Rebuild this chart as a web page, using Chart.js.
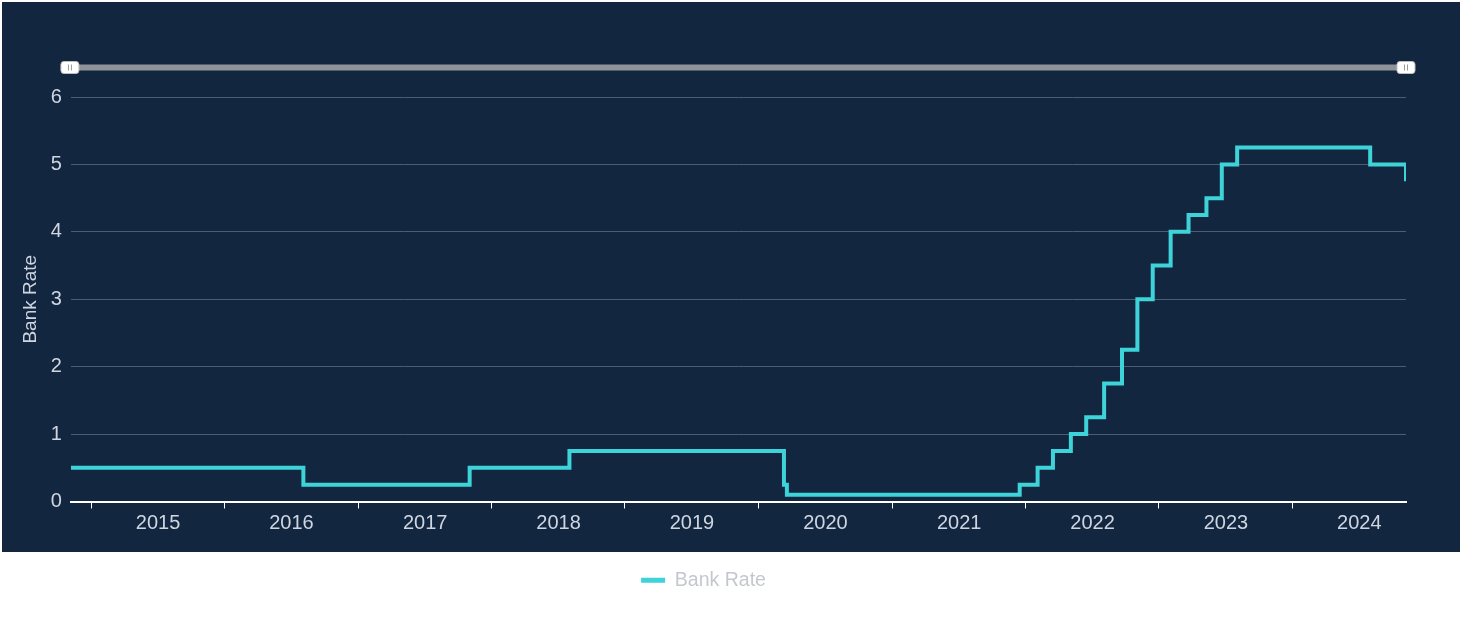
<!DOCTYPE html>
<html>
<head>
<meta charset="utf-8">
<script src="https://cdn.jsdelivr.net/npm/chart.js@4.4.1/dist/chart.umd.min.js"></script>
<style>
  html, body { margin: 0; padding: 0; background: #ffffff; }
  #wrap { position: relative; width: 1462px; height: 625px; }
</style>
</head>
<body>
<div id="wrap"><canvas id="c" width="1462" height="625"></canvas></div>
<script>
// ---- Data (Bank of England Bank Rate) ----
const seriesName = 'Bank Rate';
const changeDates = [
  '2014-11-07', '2016-08-04', '2017-11-02', '2018-08-02', '2020-03-11', '2020-03-19',
  '2021-12-16', '2022-02-03', '2022-03-17', '2022-05-05', '2022-06-16', '2022-08-04',
  '2022-09-22', '2022-11-03', '2022-12-15', '2023-02-02', '2023-03-23', '2023-05-11',
  '2023-06-22', '2023-08-03', '2024-08-01', '2024-11-07'
];
const rates = [
  0.5, 0.25, 0.5, 0.75, 0.25, 0.1,
  0.25, 0.5, 0.75, 1.0, 1.25, 1.75,
  2.25, 3.0, 3.5, 4.0, 4.25, 4.5,
  5.0, 5.25, 5.0, 4.75
];
const tickYears = [2015, 2016, 2017, 2018, 2019, 2020, 2021, 2022, 2023, 2024];
const yTicks = [0, 1, 2, 3, 4, 5, 6];
const rangeStart = '2014-11-07';
const rangeEnd = '2024-11-07';

const toTs = s => Date.parse(s + 'T00:00:00Z');
const points = changeDates.map((d, i) => ({ x: toTs(d), y: rates[i] }));

const BG = '#132640';
const CYAN = '#3dd3d8';
const LABEL = '#cfd6e0';

const bgPlugin = {
  id: 'bgPanel',
  beforeDraw(chart) {
    const ctx = chart.ctx;
    ctx.save();
    ctx.fillStyle = '#ffffff';
    ctx.fillRect(0, 0, chart.width, chart.height);
    ctx.fillStyle = BG;
    ctx.fillRect(2, 2, 1458, 550);
    ctx.restore();
  },
  afterDraw(chart) {
    // navigator / range slider decoration
    const ctx = chart.ctx;
    const x0 = chart.scales.x.left, x1 = chart.scales.x.right;
    const yc = 67.5;
    ctx.save();
    ctx.fillStyle = '#8e9399';
    ctx.fillRect(x0, yc - 3, x1 - x0, 6);
    [x0 - 1, x1].forEach(hx => {
      const w = 18, h = 12, r = 3;
      ctx.beginPath();
      ctx.roundRect(hx - w / 2, yc - h / 2, w, h, r);
      ctx.fillStyle = '#ffffff';
      ctx.fill();
      ctx.strokeStyle = '#bfbfbf';
      ctx.lineWidth = 1;
      ctx.stroke();
      ctx.beginPath();
      ctx.moveTo(hx - 1.5, yc - 3); ctx.lineTo(hx - 1.5, yc + 3);
      ctx.moveTo(hx + 1.5, yc - 3); ctx.lineTo(hx + 1.5, yc + 3);
      ctx.strokeStyle = '#999999';
      ctx.stroke();
    });
    ctx.restore();
  }
};

new Chart(document.getElementById('c'), {
  type: 'line',
  data: {
    datasets: [{
      label: seriesName,
      data: points,
      borderColor: CYAN,
      backgroundColor: CYAN,
      borderWidth: 4,
      stepped: true,
      pointRadius: 0,
      pointHoverRadius: 0,
      tension: 0,
      borderJoinStyle: 'miter',
      borderCapStyle: 'butt',
      fill: false
    }]
  },
  options: {
    responsive: false,
    animation: false,
    layout: { padding: { left: 1, right: 56, top: 97, bottom: 25 } },
    plugins: {
      tooltip: { enabled: false },
      legend: {
        display: true,
        position: 'bottom',
        labels: {
          boxWidth: 24,
          boxHeight: 5,
          padding: 32,
          color: '#c4c8ce',
          font: { family: 'Liberation Sans, Arial, sans-serif', size: 19.5 },
          generateLabels(chart) {
            return chart.data.datasets.map((ds, i) => ({
              text: ds.label,
              fillStyle: ds.borderColor,
              strokeStyle: ds.borderColor,
              lineWidth: 0,
              fontColor: '#c4c8ce',
              hidden: false,
              datasetIndex: i
            }));
          }
        }
      }
    },
    scales: {
      x: {
        type: 'linear',
        min: toTs(rangeStart),
        max: toTs(rangeEnd),
        afterBuildTicks(scale) {
          scale.ticks = tickYears.map(y => ({ value: Date.UTC(y, 0, 1) }));
        },
        ticks: {
          autoSkip: false,
          maxRotation: 0,
          minRotation: 0,
          labelOffset: 67,
          padding: 3,
          color: LABEL,
          font: { family: 'Liberation Sans, Arial, sans-serif', size: 20 },
          callback: v => String(new Date(v).getUTCFullYear())
        },
        grid: {
          drawOnChartArea: false,
          drawTicks: true,
          tickLength: 7,
          color: '#ffffff',
          lineWidth: 1
        },
        border: { display: true, color: '#ffffff', width: 2 }
      },
      y: {
        min: 0,
        max: 6,
        afterBuildTicks(scale) {
          scale.ticks = yTicks.map(v => ({ value: v }));
        },
        ticks: {
          padding: 9,
          color: LABEL,
          font: { family: 'Liberation Sans, Arial, sans-serif', size: 20 }
        },
        grid: {
          drawTicks: false,
          color: ctx => (ctx.tick && ctx.tick.value === 0) ? 'rgba(0,0,0,0)' : '#4e5d72',
          lineWidth: 1
        },
        border: { display: false },
        title: {
          display: true,
          text: 'Bank Rate',
          color: LABEL,
          font: { family: 'Liberation Sans, Arial, sans-serif', size: 19 },
          padding: { top: 18, bottom: 0 }
        }
      }
    }
  },
  plugins: [bgPlugin]
});
</script>
</body>
</html>
